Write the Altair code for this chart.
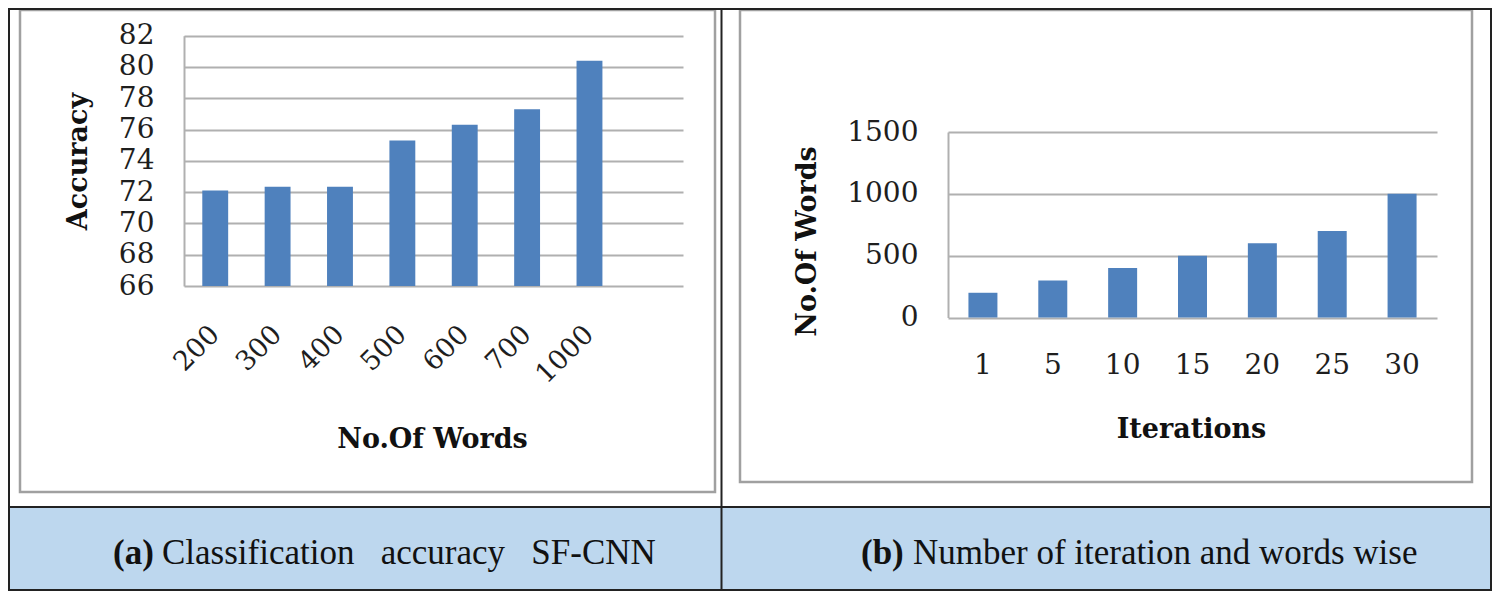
import altair as alt
import pandas as pd

# ---------------- data ----------------
words = ["200", "300", "400", "500", "600", "700", "1000"]
accuracy = [72.1, 72.35, 72.35, 75.3, 76.3, 77.3, 80.4]
acc_ticks = [66, 68, 70, 72, 74, 76, 78, 80, 82]

iterations = ["1", "5", "10", "15", "20", "25", "30"]
word_counts = [200, 300, 400, 500, 600, 700, 1000]
count_ticks = [0, 500, 1000, 1500]

cap_a_tag, cap_a_text = "(a)", "Classification\u00a0\u00a0 accuracy\u00a0\u00a0 SF-CNN"
cap_b_tag, cap_b_text = "(b)", "Number of iteration and words wise"

# ---------------- style ----------------
FONT = "DejaVu Serif"
CAPFONT = "Liberation Serif"
GRID = "#B0B0B0"
BAR = "#4F81BD"
FRAME = "#A0A0A0"
CAPFILL = "#BDD7EE"
W, H = 1484, 583

df_a = pd.DataFrame({"words": words, "accuracy": accuracy})
df_b = pd.DataFrame({"iteration": iterations, "count": word_counts})
one = pd.DataFrame({"k": [0]})


def rect(x, x2, y, y2, **kw):
    return alt.Chart(one).mark_rect(**kw).encode(
        x=alt.value(x), x2=alt.value(x2), y=alt.value(y), y2=alt.value(y2)
    )


def rule(x, x2, y, y2, **kw):
    return alt.Chart(one).mark_rule(**kw).encode(
        x=alt.value(x), x2=alt.value(x2), y=alt.value(y), y2=alt.value(y2)
    )


def text(s, x, y, **kw):
    return alt.Chart(one).mark_text(text=s, **kw).encode(x=alt.value(x), y=alt.value(y))


# decorations
cap_fill = rect(0, W, 499, H, fill=CAPFILL)
frame_a = rect(12, 707, 2, 484, fillOpacity=0, stroke=FRAME, strokeWidth=2.5)
frame_b = rect(732, 1464, 2, 474, fillOpacity=0, stroke=FRAME, strokeWidth=2.5)
outer = rect(1, W - 1, 1, H - 1, fillOpacity=0, stroke="#222222", strokeWidth=2)
hline = rule(0, W, 499, 499, color="#222222", strokeWidth=2)
vline = rule(713.5, 713.5, 0, H, color="#222222", strokeWidth=2)

label_kw = dict(labelFont=FONT, labelColor="#1e1e1e", ticks=False)
title_kw = dict(titleFont=FONT, titleFontSize=27, titleFontWeight="bold", titleColor="#111111")

# ---------------- panel (a) ----------------
left_y0, left_y1 = 278, 27.7
left = alt.Chart(df_a).mark_bar(color=BAR).encode(
    x=alt.X(
        "words:N",
        sort=words,
        scale=alt.Scale(domain=words, range=[176, 675], paddingInner=0.585,
                        paddingOuter=0.7925, align=0.185),
        axis=alt.Axis(orient="bottom", offset=left_y0 - H, domain=False, grid=False,
                      labelAngle=-45, labelAlign="right", labelBaseline="middle",
                      labelPadding=44, labelFontSize=27, title="No.Of Words",
                      titleX=424, titleY=140, **label_kw, **title_kw),
    ),
    y=alt.Y(
        "accuracy:Q",
        scale=alt.Scale(domain=[acc_ticks[0], acc_ticks[-1]], range=[left_y0, left_y1],
                        nice=False, zero=False),
        axis=alt.Axis(orient="left", offset=-176, values=acc_ticks, format="d",
                      grid=True, gridColor=GRID, gridWidth=2,
                      domain=True, domainColor=GRID, domainWidth=2,
                      labelOverlap=False, labelPadding=30, labelFontSize=28,
                      title="Accuracy", titleX=-92, titleY=153, **label_kw, **title_kw),
    ),
    y2=alt.datum(acc_ticks[0]),
)

# ---------------- panel (b) ----------------
right_y0, right_y1 = 309.5, 124
right = alt.Chart(df_b).mark_bar(color=BAR).encode(
    x=alt.X(
        "iteration:N",
        sort=iterations,
        scale=alt.Scale(domain=iterations, range=[940, 1429], paddingInner=0.585,
                        paddingOuter=0.2925),
        axis=alt.Axis(orient="bottom", offset=right_y0 - H, domain=False, grid=False,
                      labelAngle=0, labelPadding=34, labelFontSize=28,
                      title="Iterations", titleX=1183, titleY=99, **label_kw, **title_kw),
    ),
    y=alt.Y(
        "count:Q",
        scale=alt.Scale(domain=[count_ticks[0], count_ticks[-1]], range=[right_y0, right_y1],
                        nice=False),
        axis=alt.Axis(orient="left", offset=-940, values=count_ticks, format="d",
                      grid=True, gridColor=GRID, gridWidth=2,
                      domain=True, domainColor=GRID, domainWidth=2,
                      labelOverlap=False, labelPadding=30, labelFontSize=28,
                      title="No.Of Words", titleX=-127, titleY=233, **label_kw, **title_kw),
    ),
    y2=alt.datum(count_ticks[0]),
)

# ---------------- captions ----------------
cap_kw = dict(font=CAPFONT, fontSize=35, align="left", baseline="alphabetic", color="#111111")
cap_a1 = text(cap_a_tag, 105, 556, fontWeight="bold", **cap_kw)
cap_a2 = text(cap_a_text, 154, 556, **cap_kw)
cap_b1 = text(cap_b_tag, 853, 556, fontWeight="bold", **cap_kw)
cap_b2 = text(cap_b_text, 905, 556, **cap_kw)

chart = (
    alt.layer(cap_fill, frame_a, frame_b, left, right, outer, hline, vline,
              cap_a1, cap_a2, cap_b1, cap_b2)
    .resolve_scale(x="independent", y="independent")
    .resolve_axis(x="independent", y="independent")
    .properties(width=W, height=H, autosize=alt.AutoSizeParams(type="none"), padding=0)
    .configure_view(strokeWidth=0)
    .configure(background="white")
)

chart.save("out.html", embed_options={"renderer": "svg", "actions": False})
